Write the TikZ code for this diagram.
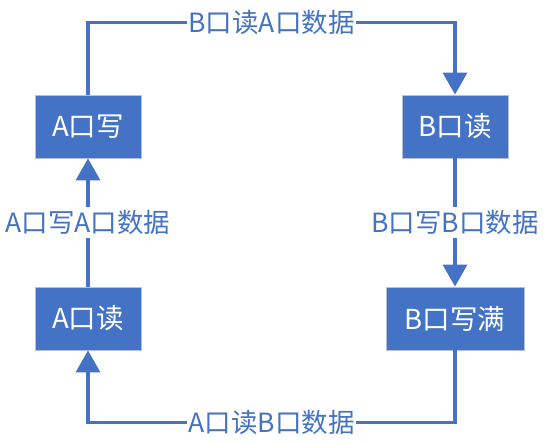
\documentclass[tikz,border=0pt]{standalone}
\usepackage{fontspec}
\setmainfont{Noto Sans CJK SC}
\usetikzlibrary{arrows.meta, positioning}
\definecolor{portblue}{HTML}{4472C4}
\definecolor{portedge}{HTML}{B4C0D8}

\begin{document}
\begin{tikzpicture}[
    ->,
    >={Triangle[length=22pt, width=24pt]},
    line width=3.3pt,
    port/.style={draw=portedge, line width=0.8pt, fill=portblue, text=white,
        minimum width=106pt, minimum height=63pt, inner sep=0pt,
        font=\fontsize{27.5}{32}\selectfont},
    flow/.style={draw=portblue},
    flow label/.style={fill=white, text=portblue, inner xsep=1pt, inner ysep=3pt},
    font=\fontsize{26.5}{31}\selectfont,
    yscale=-1,
    x=1pt,
    y=1pt
]
    \useasboundingbox (0,0) rectangle (544,443);

    \node[port] (awrite) at (88,126.5) {A口写};
    \node[port] (bread) at (455,126.5) {B口读};
    \node[port] (aread) at (88,318.5) {A口读};
    \node[port, minimum width=138pt] (bfull) at (455,318.5) {B口写满};

    \draw[flow] (awrite.north) -- ++(0,-72) -| node[pos=0.25, flow label]{B口读A口数据} (bread.north);
    \draw[flow] (bread.south) -- node[flow label]{B口写B口数据} (bfull.north);
    \draw[flow] (bfull.south) -- ++(0,72) -| node[pos=0.25, flow label]{A口读B口数据} (aread.south);
    \draw[flow] (aread.north) -- node[flow label]{A口写A口数据} (awrite.south);
\end{tikzpicture}
\end{document}
